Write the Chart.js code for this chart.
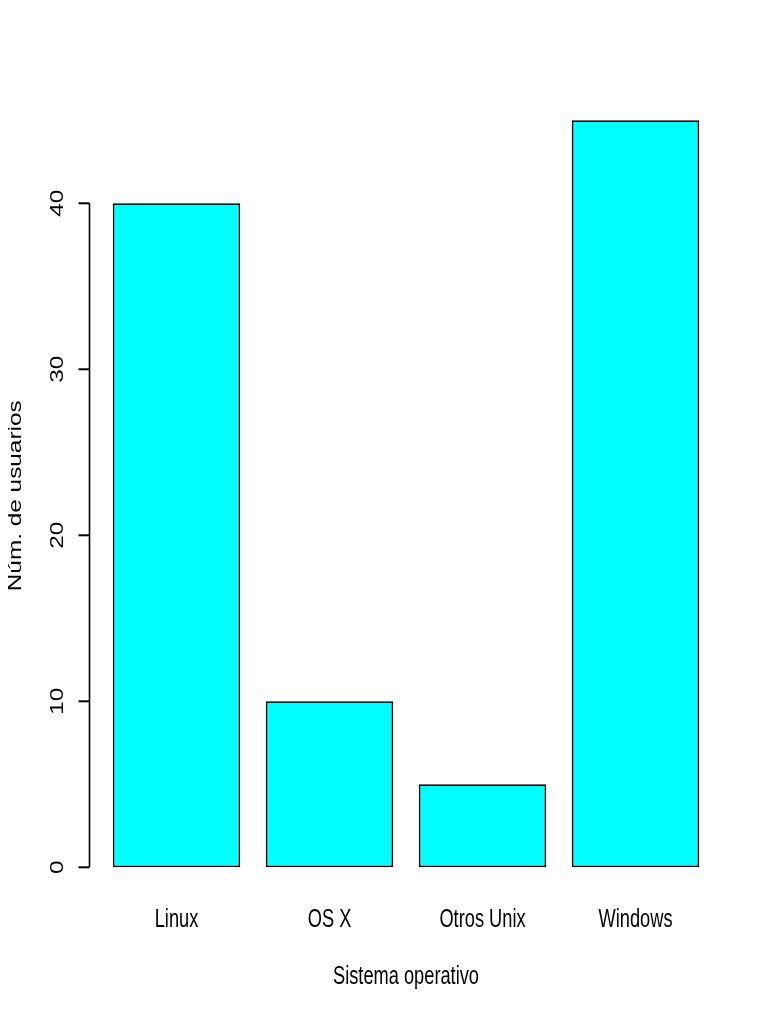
<!DOCTYPE html>
<html>
<head>
<meta charset="utf-8">
<script src="https://cdn.jsdelivr.net/npm/chart.js@4/dist/chart.umd.min.js"></script>
<style>
  html, body { margin: 0; padding: 0; background: #fff; }
  canvas { display: block; }
</style>
</head>
<body>
<canvas id="chart" width="768" height="1024"></canvas>
<script>
// data
const sistemas = ['Linux', 'OS X', 'Otros Unix', 'Windows'];
const usuarios = [40, 10, 5, 45];
const yTicks = [0, 10, 20, 30, 40];
const xTitle = 'Sistema operativo';
const yTitle = 'Núm. de usuarios';

// the original was an R plot stretched wider than tall; text follows that
const ALONG_H = 1.52, ACROSS_H = 2.1333; // horizontal text
const ALONG_V = 2.03, ACROSS_V = 1.6;    // rotated text
const FONT = '12px "Liberation Sans", Arial, sans-serif';

const rAxes = {
  id: 'rAxes',
  afterDraw(chart) {
    const ctx = chart.ctx;
    const x = chart.scales.x;
    const y = chart.scales.y;
    const axisX = chart.chartArea.left - 10.5;

    ctx.save();
    ctx.strokeStyle = '#000';
    ctx.fillStyle = '#000';
    ctx.font = FONT;

    // y axis line, only from first to last tick
    ctx.lineWidth = 1.6;
    ctx.beginPath();
    ctx.moveTo(axisX, y.getPixelForValue(yTicks[0]));
    ctx.lineTo(axisX, y.getPixelForValue(yTicks[yTicks.length - 1]));
    ctx.stroke();

    // tick marks and rotated labels
    ctx.lineWidth = 2;
    ctx.textAlign = 'center';
    ctx.textBaseline = 'alphabetic';
    yTicks.forEach(v => {
      const py = y.getPixelForValue(v);
      ctx.beginPath();
      ctx.moveTo(axisX - 11, py);
      ctx.lineTo(axisX, py);
      ctx.stroke();

      ctx.save();
      ctx.translate(63, py);
      ctx.rotate(-Math.PI / 2);
      ctx.scale(ALONG_V, ACROSS_V);
      ctx.fillText(String(v), 0, 0);
      ctx.restore();
    });

    // category labels under the bars
    sistemas.forEach((s, i) => {
      ctx.save();
      ctx.translate(x.getPixelForValue(i), 927);
      ctx.scale(ALONG_H, ACROSS_H);
      ctx.fillText(s, 0, 0);
      ctx.restore();
    });

    // x title
    const midX = (axisX + chart.chartArea.right + 10.5) / 2;
    ctx.save();
    ctx.translate(midX, 984);
    ctx.scale(ALONG_H, ACROSS_H);
    ctx.fillText(xTitle, 0, 0);
    ctx.restore();

    // y title
    const midY = (chart.chartArea.top + chart.chartArea.bottom) / 2;
    ctx.save();
    ctx.translate(21, midY + 2);
    ctx.rotate(-Math.PI / 2);
    ctx.scale(ALONG_V, ACROSS_V);
    ctx.fillText(yTitle, 0, 0);
    ctx.restore();

    ctx.restore();
  }
};

new Chart(document.getElementById('chart'), {
  type: 'bar',
  data: {
    labels: sistemas,
    datasets: [{
      data: usuarios,
      backgroundColor: '#00ffff',
      borderColor: '#000',
      borderWidth: 1.8,
      borderSkipped: false,
      categoryPercentage: 1,
      barPercentage: 1 / 1.2
    }]
  },
  options: {
    responsive: false,
    animation: false,
    events: [],
    layout: {
      padding: { left: 100, right: 56, top: 90.4, bottom: 126.8 }
    },
    plugins: {
      legend: { display: false },
      tooltip: { enabled: false }
    },
    scales: {
      x: {
        type: 'category',
        offset: true,
        display: false
      },
      y: {
        min: -1.8,
        max: 46.8,
        display: false
      }
    }
  },
  plugins: [rAxes]
});
</script>
</body>
</html>
